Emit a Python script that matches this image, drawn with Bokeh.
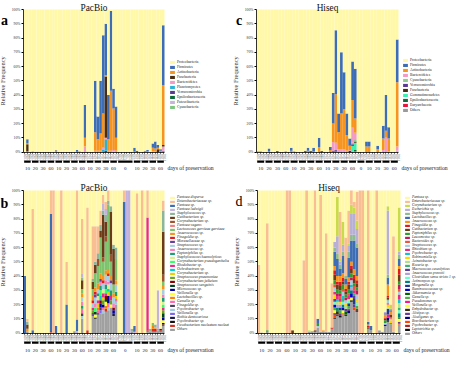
from bokeh.plotting import figure
from bokeh.models import (ColumnDataSource, Range1d, FixedTicker, NumeralTickFormatter,
                          Legend, LegendItem, Label)
from bokeh.layouts import column, row
from bokeh.embed import file_html
from bokeh.resources import INLINE
from bokeh.core.properties import value

SERIF = "Liberation Serif"

# ---------------- groups / sample labels ----------------
day_labels = ["10", "20", "30", "60", "10", "20", "30", "60", "10", "20", "30", "60",
              "0", "10", "20", "30", "60"]
tissue_codes = ["A", "A", "A", "A", "B", "B", "B", "B", "C", "C", "C", "C",
                "N", "D", "D", "D", "D"]
pacbio_group_sizes = [3, 3, 3, 3, 3, 3, 3, 3, 3, 3, 3, 3, 6, 3, 3, 3, 3]
hiseq_group_sizes = [3, 3, 3, 3, 3, 3, 3, 3, 3, 3, 3, 3, 3, 3, 3, 3, 3]

# ---------------- panel a: PacBio, phylum (values in %) ----------------
a_proteo = [100, 91, 100, 99.5, 100, 99.7, 100, 100, 100, 100,
            100, 100, 98.5, 100, 100, 100, 100, 100, 100, 100,
            98.5, 99.5, 100, 67, 99.7, 100, 100, 50, 75, 50,
            18, 10, 60, 1, 55.5, 68, 100, 100, 100, 100,
            100, 100, 97, 99, 100, 100, 99, 98.5, 100, 94,
            92.5, 95, 98, 11]
a_firm = {1: 3, 3: 0.5, 5: 0.3, 12: 0.3, 20: 1.2, 21: 0.5, 23: 23, 24: 0.3, 27: 36, 28: 16,
          29: 37, 30: 55, 31: 36, 32: 31, 33: 56, 34: 14, 35: 22, 42: 2.5, 43: 1, 46: 0.5,
          47: 1, 49: 3, 50: 5, 51: 2, 52: 1, 53: 42}
a_actino = {1: 0.5, 12: 1.2, 20: 0.3, 23: 6, 27: 13, 28: 8, 29: 12, 30: 24, 31: 1, 32: 8,
            33: 42, 34: 29, 35: 9, 42: 0.5, 46: 0.5, 47: 0.5, 49: 2.5, 50: 2, 51: 1, 52: 1, 53: 42}
a_fuso = {1: 5, 31: 43, 51: 2, 53: 1}
a_bact = {1: 0.5, 23: 3.5, 27: 1, 28: 1, 29: 1, 30: 1.5, 31: 1, 32: 1, 33: 1, 34: 1, 35: 1,
          49: 0.5, 50: 0.5, 53: 3}
a_planc = {23: 0.5, 30: 1, 31: 8, 53: 0.5}
a_verr = {31: 1, 53: 0.5}
a_eps = {30: 0.5}
a_pates = {34: 0.5}
a_cyano = {}

# ---------------- panel c: Hiseq, phylum ----------------
c_proteo = [99.5, 99.5, 100, 100, 97.5, 100, 100, 99.2, 100, 100,
            99.5, 100, 97, 99.6, 100, 100, 100, 99, 97, 99,
            97, 100, 90, 99.2, 100, 100, 96.5, 58.5, 14.5, 73,
            30, 44, 73, 90.5, 36.5, 41.5, 100, 100, 100, 92.5,
            92.5, 100, 100, 95.5, 100, 81.5, 60, 82.5, 100, 100, 21]
c_firm = {4: 2, 7: 0.8, 12: 2, 17: 1, 18: 2, 19: 1, 20: 2.5, 22: 6.5, 23: 0.8, 26: 2,
          27: 21.5, 28: 45, 29: 13, 30: 43, 31: 26, 32: 15, 33: 5, 34: 27, 35: 35,
          39: 3.5, 40: 3.5, 43: 2.5, 45: 9, 46: 25, 47: 8, 50: 30}
c_actino = {4: 0.5, 12: 1, 18: 1, 20: 0.5, 22: 3.5, 26: 1.5, 27: 13, 28: 34, 29: 12, 30: 25,
            31: 28, 32: 11, 33: 3, 34: 19.5, 35: 10, 39: 4, 40: 4, 43: 2, 45: 8, 46: 5,
            47: 9, 50: 45}
c_bact = {27: 6, 28: 5, 29: 2, 30: 2, 31: 2, 32: 1, 33: 0.5, 34: 10.5, 35: 5, 45: 1.5,
          46: 10, 47: 0.5, 50: 3}
c_cyano = {34: 1, 35: 1, 50: 0.5}
c_verr = {28: 0.5, 34: 0.5}
c_fuso = {0: 0.5, 1: 0.5, 10: 0.5, 13: 0.4, 27: 0.5, 28: 0.5, 33: 1, 34: 0.5, 35: 1}
c_gemm = {34: 4, 35: 5}
c_eps = {35: 1}
c_eury = {}
c_others = {27: 0.5, 28: 0.5, 34: 0.5, 35: 0.5, 50: 0.5}

# ---------------- panel b: PacBio, species ----------------
b_dispersa = [60, 90, 100, 13, 100, 100, 100, 100, 100, 100,
              0, 0, 95, 100, 0, 100, 50, 100, 100, 98.5,
              0, 100, 20, 100, 12, 100, 25, 25, 25, 14,
              3, 8, 0, 11, 38, 40, 100, 100, 0, 0,
              0, 97, 95, 2, 100, 0, 100, 0, 97, 93,
              94, 70, 97, 7]
b_ent = {1: 2, 3: 85, 10: 16.5, 11: 100, 14: 100, 16: 30, 20: 90.5, 22: 38, 24: 86, 26: 37,
         27: 25, 28: 19, 29: 10, 30: 6, 31: 5, 32: 7, 38: 8, 43: 98, 45: 100, 47: 19, 53: 7}
b_psp = {0: 40, 3: 2, 10: 82, 12: 5, 16: 20, 20: 8, 38: 92, 42: 4}
b_plud = {20: 1.5, 22: 3, 30: 5, 31: 4, 39: 100, 40: 100, 42: 1, 51: 27}
b_staph = {1: 2, 19: 0.5, 22: 2, 26: 2, 27: 2, 28: 4, 29: 4, 30: 3, 31: 5, 32: 3, 33: 4,
           34: 3, 35: 8, 41: 2, 48: 2, 50: 2, 51: 1, 53: 15}
b_cuti = {1: 3, 22: 6, 26: 5, 27: 6, 29: 5, 30: 30, 31: 10, 33: 30, 34: 25, 53: 30}
b_cuti2 = {28: 5, 30: 3, 31: 4, 33: 5, 53: 5}
b_pvag = {}
b_lacto = {22: 3, 26: 5, 27: 10, 28: 12, 29: 25, 30: 10, 31: 20, 32: 45, 33: 10, 34: 6,
           35: 15, 49: 2, 53: 3}
b_anae = {1: 2, 22: 3, 26: 3, 27: 3, 28: 4, 29: 4, 30: 3, 31: 3, 32: 3, 33: 3, 34: 3,
          35: 3, 50: 1, 53: 2}
b_fineg = {26: 2, 27: 2, 30: 2, 32: 2, 50: 2}
b_morax = {27: 2, 29: 2, 33: 2}
b_strep = {22: 3, 26: 3, 27: 4, 28: 3, 30: 4, 31: 4, 32: 4, 33: 5, 34: 4, 35: 5, 53: 4}
b_anae2 = {22: 3, 27: 3, 29: 3, 31: 3, 32: 2, 34: 3, 53: 2}
b_pept = {22: 2, 28: 2, 29: 3, 31: 3, 33: 4, 35: 3, 53: 3}
b_shaem = {28: 3, 30: 3, 32: 3, 53: 2}
b_cpseu = {27: 3, 29: 4, 31: 3, 53: 2}
b_rhodo = {26: 2, 28: 2, 30: 3, 31: 2, 33: 3, 47: 79, 53: 2}
b_ochro = {29: 3, 32: 2}
b_coryn = {28: 3, 30: 2, 32: 3, 35: 2}
b_spneu = {26: 2, 30: 3, 33: 3, 53: 2}
b_cjeik = {29: 2, 31: 2, 34: 2, 52: 1}
b_ssang = {27: 2, 31: 2, 53: 3}
b_micro = {26: 1, 29: 3, 30: 2, 32: 5, 34: 2, 53: 2}
b_veil = {27: 2, 31: 3, 33: 2, 53: 2}
b_lons = {28: 2, 31: 2, 49: 2}
b_gem = {22: 3, 28: 2, 30: 2, 32: 3, 35: 2}
b_fineg2 = {22: 2, 29: 2}
b_psych = {22: 2, 30: 2, 32: 2, 35: 2}
b_veil2 = {29: 2}
b_rothia = {28: 1, 34: 2}
b_psych2 = {27: 1, 53: 1}
b_fnuc = {10: 1, 24: 2, 26: 1, 31: 2, 47: 1, 49: 2, 52: 1, 53: 1}
b_others = {1: 1, 10: 0.5, 19: 1, 22: 10, 26: 12, 27: 10, 28: 13, 29: 14, 30: 14, 31: 15,
            32: 16, 33: 18, 34: 12, 35: 20, 41: 1, 47: 1, 48: 1, 49: 1, 50: 1, 51: 2,
            52: 1, 53: 5}

# ---------------- panel d: Hiseq, species ----------------
d_pantoea = [52, 99.5, 100, 23, 100, 100, 100, 100, 100, 100,
             0, 0, 98, 100, 100, 100, 49, 0, 98, 98.5,
             0, 90, 3, 98, 30, 99, 65, 36, 4.5, 15,
             22, 33, 14, 0, 8, 1, 0, 0, 100, 0,
             95, 100, 0, 98, 99, 85, 11, 80, 32, 100, 12]
d_ent = {0: 48, 3: 75, 10: 100, 11: 100, 16: 51, 17: 100, 20: 98, 22: 96, 24: 69, 26: 31,
         29: 33, 31: 27, 32: 23, 33: 10, 34: 4, 35: 20, 36: 100, 37: 100, 39: 92, 42: 100,
         48: 67}
d_cory = {18: 1, 28: 27.5, 29: 2, 30: 16, 32: 2, 33: 6, 34: 4, 35: 6, 46: 3, 47: 3, 50: 31}
d_esch = {27: 4, 28: 12, 29: 2, 30: 5, 32: 4, 33: 15, 34: 15, 35: 10, 45: 1, 46: 45, 50: 2}
d_staph = {19: 0.5, 27: 3, 28: 4, 29: 3, 30: 3, 31: 2, 32: 4, 33: 4, 34: 4, 35: 3, 46: 2,
           47: 1, 50: 3}
d_lactb = {21: 3, 27: 10, 28: 12, 29: 5, 30: 12, 31: 4, 32: 14, 33: 15, 34: 20, 35: 20,
           39: 2, 40: 3, 45: 1, 46: 5, 47: 1, 50: 5}
d_anae = {23: 1, 27: 3, 28: 4, 29: 4, 30: 3, 31: 3, 32: 3, 33: 3, 34: 4, 35: 3, 39: 1,
          45: 2, 46: 8, 47: 2, 50: 2}
d_fineg = {26: 1, 27: 3, 28: 2, 29: 3, 30: 3, 31: 2, 32: 2, 33: 2, 34: 3, 35: 2, 39: 1,
           45: 1, 46: 1, 50: 4}
d_cuti = {12: 2, 20: 1, 27: 4, 28: 3, 29: 3, 30: 2, 31: 2, 32: 3, 33: 3, 34: 3, 35: 3,
          39: 1, 45: 1, 46: 1, 47: 2, 50: 5}
d_pept = {3: 1, 21: 2, 27: 3, 28: 3, 29: 2, 30: 3, 31: 2, 32: 3, 33: 3, 34: 2, 35: 2,
          45: 2, 46: 1, 50: 2}
d_leuc = {28: 2, 29: 2, 31: 2, 33: 2, 35: 3, 50: 3}
d_bact = {27: 2, 29: 2, 30: 2, 32: 2, 34: 3, 47: 1, 50: 2}
d_strep = {21: 1, 27: 3, 30: 3, 31: 2, 33: 3, 35: 3, 45: 1, 46: 2, 47: 1, 50: 2}
d_rhiz = {27: 2, 28: 2, 29: 2, 32: 2, 34: 2, 46: 1, 50: 3}
d_psych = {28: 2, 30: 2, 33: 2, 50: 3}
d_robin = {27: 3, 29: 2, 31: 2, 32: 1, 35: 2, 46: 2, 47: 2}
d_acin = {28: 2, 31: 2, 35: 1, 46: 1, 50: 3}
d_rothia = {30: 2, 34: 2, 50: 2}
d_macro = {27: 2, 31: 2, 34: 2}
d_aprev = {28: 2, 29: 2, 33: 2}
d_clost = {27: 2, 30: 2, 32: 2, 35: 2, 50: 2}
d_actin = {28: 2, 30: 2, 33: 2, 50: 3}
d_morg = {29: 2, 32: 2, 34: 4, 46: 4}
d_rumin = {27: 2, 30: 2, 33: 3, 45: 1}
d_akk = {28: 1, 31: 2, 50: 1}
d_gem = {27: 2, 29: 2, 32: 2, 35: 2, 47: 1}
d_pseud = {32: 1, 46: 2}
d_veil = {27: 2, 30: 2, 33: 2, 50: 2}
d_enhy = {28: 2, 31: 1}
d_alis = {29: 2, 34: 2, 50: 1}
d_alca = {27: 1, 32: 2, 46: 2}
d_brev = {27: 2, 30: 1, 34: 2, 50: 1}
d_pxan = {28: 1, 35: 1}
d_lept = {27: 1, 29: 1, 33: 1, 35: 1, 46: 1}
d_others = {1: 0.5, 3: 1, 18: 1, 19: 1, 20: 1, 21: 4, 22: 1, 23: 1, 24: 1, 25: 1, 26: 3,
            27: 10, 28: 12, 29: 11, 30: 13, 31: 12, 32: 14, 33: 22, 34: 16, 35: 15, 39: 3,
            40: 2, 43: 2, 44: 1, 45: 5, 46: 8, 47: 6, 48: 1, 50: 6}

YEL = "#FFF8A8"
SAL = "#F9BF93"
BLUE = "#3D6DB5"
ORG = "#F7941E"


def dense(d, n):
    return [d.get(i, 0) for i in range(n)]


def sample_names(sizes):
    out = []
    for t, lab, s in zip(tissue_codes, day_labels, sizes):
        for r in range(s):
            out.append(f"{t}{lab}-{r + 1}")
    return out


def panel(entries, sizes, title, letter, g, italic):
    n = sum(sizes)
    names = sample_names(sizes)
    keys = [f"k{i}" for i in range(len(entries))]
    data = {"x": list(range(n))}
    for k, (lab, vals, col) in zip(keys, entries):
        data[k] = [v / 100 for v in vals]
    src = ColumnDataSource(data)

    # the frame fills the whole canvas; data ranges are set so that the
    # bar area sits at the wanted pixel box inside it
    ppx = (g["xr"] - g["xl"]) / n
    x0 = -0.5 - g["xl"] / ppx
    x1 = n - 0.5 + (g["w"] - g["xr"]) / ppx
    pu = g["pu"]
    y1 = 1.0 + g["yt"] / pu
    y0 = -(g["h"] - g["yt"] - pu) / pu

    p = figure(width=g["w"], height=g["h"], x_range=Range1d(x0, x1),
               y_range=Range1d(y0, y1), output_backend="svg", toolbar_location=None,
               min_border=0)
    p.outline_line_color = None
    p.grid.visible = False
    stack_keys = keys[::-1]
    colors = [e[2] for e in entries][::-1]
    rs = p.vbar_stack(stack_keys, x="x", width=1.0, source=src, fill_color=colors,
                      line_color=None)
    rmap = dict(zip(stack_keys, rs))

    ya = p.yaxis[0]
    ya.fixed_location = -0.5
    ya.bounds = (0, 1)
    ya.ticker = FixedTicker(ticks=[0, 0.1, 0.2, 0.3, 0.4, 0.5, 0.6, 0.7, 0.8, 0.9, 1.0])
    ya.formatter = NumeralTickFormatter(format="0%")
    ya.major_label_text_font = SERIF
    ya.major_label_text_font_size = "3.8px"
    ya.major_label_text_color = "#333333"
    ya.major_label_standoff = 1
    ya.major_tick_out = 2
    ya.major_tick_in = 0
    ya.minor_tick_out = 0
    ya.minor_tick_in = 0
    ya.axis_line_width = 0.8
    ya.axis_label = "Relative Frequency"
    ya.axis_label_text_font = SERIF
    ya.axis_label_text_font_style = "normal"
    ya.axis_label_text_font_size = "6.3px"
    ya.axis_label_text_color = "#333333"
    ya.axis_label_standoff = 3

    xa = p.xaxis[0]
    xa.fixed_location = 0
    xa.bounds = (-0.5, n - 0.5)
    xa.ticker = FixedTicker(ticks=list(range(n)))
    xa.major_label_overrides = {i: nm for i, nm in enumerate(names)}
    xa.major_label_orientation = "vertical"
    xa.major_label_text_font_size = "2.6px"
    xa.major_label_text_color = "#777777"
    xa.major_label_standoff = 1
    xa.major_tick_out = 1
    xa.major_tick_in = 0
    xa.minor_tick_out = 0
    xa.minor_tick_in = 0
    xa.axis_line_width = 0.8

    starts, centers = [], []
    acc = 0
    for s in sizes:
        starts.append(acc)
        centers.append(acc + (s - 1) / 2)
        acc += s
    p.quad(left=[s - 0.5 + 0.25 for s in starts],
           right=[s + sz - 0.5 - 0.25 for s, sz in zip(starts, sizes)],
           bottom=-0.074, top=-0.059, fill_color="black", line_color=None)
    p.text(x=centers, y=g["gy"], text=day_labels, text_align="center",
           text_baseline="alphabetic", text_font=value(SERIF), text_font_size="5px",
           text_color="#222222")
    p.add_layout(Label(x=n - 0.5, y=g["gy"], x_offset=3, text="days of preservation",
                       text_font=SERIF, text_font_size="5.7px", text_baseline="alphabetic",
                       text_color="#222222"))
    p.add_layout(Label(x=(n - 1) / 2, y=1.0, y_offset=g["tdy"], text=title,
                       text_font=SERIF, text_font_size="9.3px", text_align="center",
                       text_baseline="alphabetic", text_color="#111111"))
    p.add_layout(Label(x=-0.5, y=1.0, x_offset=g["ldx"], y_offset=g["ldy"], text=letter,
                       text_font=SERIF, text_font_size="14px", text_font_style=g["lstyle"],
                       text_baseline="alphabetic", text_color="#000000"))

    items = [LegendItem(label=value(lab), renderers=[rmap[k]])
             for k, (lab, _, _) in zip(keys, entries)]
    leg = Legend(items=items, location=(g["lx"], g["ly"]), padding=0, margin=0, spacing=0,
                 label_standoff=2, glyph_width=6, glyph_height=g["gh"], label_height=g["lh"],
                 label_width=10, border_line_color=None, background_fill_alpha=0,
                 label_text_font=SERIF, label_text_font_size=g["lf"],
                 label_text_color="#222222", label_text_baseline="middle",
                 label_text_font_style="italic" if italic else "normal")
    p.add_layout(leg)
    return p


na = sum(pacbio_group_sizes)
nc = sum(hiseq_group_sizes)

a_entries = [
    ("Proteobacteria", a_proteo, YEL),
    ("Firmicutes", dense(a_firm, na), BLUE),
    ("Actinobacteria", dense(a_actino, na), ORG),
    ("Fusobacteria", dense(a_fuso, na), "#4A2C10"),
    ("Bacteroidetes", dense(a_bact, na), "#F39AC5"),
    ("Planctomycetes", dense(a_planc, na), "#2BB3D6"),
    ("Verrucomicrobia", dense(a_verr, na), "#5B3A96"),
    ("Epsilonbacteraeota", dense(a_eps, na), "#0E6B3A"),
    ("Patescibacteria", dense(a_pates, na), "#C7B4DA"),
    ("Cyanobacteria", dense(a_cyano, na), "#7DC680"),
]
c_entries = [
    ("Proteobacteria", c_proteo, YEL),
    ("Firmicutes", dense(c_firm, nc), BLUE),
    ("Actinobacteria", dense(c_actino, nc), ORG),
    ("Bacteroidetes", dense(c_bact, nc), "#F39AC5"),
    ("Cyanobacteria", dense(c_cyano, nc), "#8FCB8F"),
    ("Verrucomicrobia", dense(c_verr, nc), "#5B3A96"),
    ("Fusobacteria", dense(c_fuso, nc), "#4A2C10"),
    ("Gemmatimonadetes", dense(c_gemm, nc), "#3BF0B0"),
    ("Epsilonbacteraeota", dense(c_eps, nc), "#0E6B3A"),
    ("Euryarchaeota", dense(c_eury, nc), "#E8143C"),
    ("Others", dense(c_others, nc), "#9A9A9A"),
]
b_entries = [
    ("Pantoea dispersa", b_dispersa, YEL),
    ("Enterobacteriaceae sp.", dense(b_ent, na), SAL),
    ("Pantoea sp.", dense(b_psp, na), BLUE),
    ("Pantoea ludwigii", dense(b_plud, na), "#C3B3DC"),
    ("Staphylococcus sp.", dense(b_staph, na), "#8DB59A"),
    ("Cutibacterium sp.", dense(b_cuti, na), "#6B3A17"),
    ("Corynebacterium sp.", dense(b_cuti2, na), "#A0522D"),
    ("Pantoea vagans", dense(b_pvag, na), "#F08080"),
    ("Lactococcus garvieae garvieae", dense(b_lacto, na), "#7DC36B"),
    ("Anaerococcus sp.", dense(b_anae, na), ORG),
    ("Finegoldia sp.", dense(b_fineg, na), "#E31A1C"),
    ("Moraxellaceae sp.", dense(b_morax, na), "#6A3D9A"),
    ("Streptococcus sp.", dense(b_strep, na), "#A6CEE3"),
    ("Anaerococcus sp.", dense(b_anae2, na), "#F781BF"),
    ("Peptoniphilus sp.", dense(b_pept, na), "#1B9E77"),
    ("Staphylococcus haemolyticus", dense(b_shaem, na), "#D9EF8B"),
    ("Corynebacterium pseudogenitalium", dense(b_cpseu, na), "#33FF66"),
    ("Rhodobacter sp.", dense(b_rhodo, na), "#E7298A"),
    ("Ochrobactrum sp.", dense(b_ochro, na), "#00CED1"),
    ("Corynebacterium sp.", dense(b_coryn, na), "#E6D200"),
    ("Streptococcus pneumoniae", dense(b_spneu, na), "#66A61E"),
    ("Corynebacterium jeikeium", dense(b_cjeik, na), "#8B0000"),
    ("Streptococcus sanguinis", dense(b_ssang, na), "#00441B"),
    ("Micrococcus sp.", dense(b_micro, na), "#0000A0"),
    ("Veillonella sp.", dense(b_veil, na), "#FFFF33"),
    ("Lactobacillus sp.", dense(b_lons, na), "#FF7F00"),
    ("Gemella sp.", dense(b_gem, na), "#FF69B4"),
    ("Finegoldia sp.", dense(b_fineg2, na), "#4B3F5F"),
    ("Psychrobacter sp.", dense(b_psych, na), "#9ECAE1"),
    ("Veillonella sp.", dense(b_veil2, na), "#7B68EE"),
    ("Rothia dentocariosa", dense(b_rothia, na), "#1A1A4E"),
    ("Psychrobacter sp.", dense(b_psych2, na), "#111111"),
    ("Fusobacterium nucleatum nucleatum", dense(b_fnuc, na), "#D7301F"),
    ("Others", dense(b_others, na), "#A0A0A0"),
]
d_entries = [
    ("Pantoea sp.", d_pantoea, YEL),
    ("Enterobacteriaceae sp.", dense(d_ent, nc), SAL),
    ("Corynebacterium sp.", dense(d_cory, nc), "#C9DB4A"),
    ("Escherichia sp.", dense(d_esch, nc), "#B7AFD6"),
    ("Staphylococcus sp.", dense(d_staph, nc), "#8FBC8F"),
    ("Lactobacillus sp.", dense(d_lactb, nc), BLUE),
    ("Anaerococcus sp.", dense(d_anae, nc), ORG),
    ("Finegoldia sp.", dense(d_fineg, nc), "#E31A1C"),
    ("Cutibacterium sp.", dense(d_cuti, nc), "#6B3A17"),
    ("Peptoniphilus sp.", dense(d_pept, nc), "#2CA02C"),
    ("Leuconostoc sp.", dense(d_leuc, nc), "#C2185B"),
    ("Bacteroides sp.", dense(d_bact, nc), "#E9573F"),
    ("Streptococcus sp.", dense(d_strep, nc), "#A6CEE3"),
    ("Rhizobium sp.", dense(d_rhiz, nc), "#E7298A"),
    ("Psychrobacter sp.", dense(d_psych, nc), "#17BECF"),
    ("Robinsoniella sp.", dense(d_robin, nc), "#FFD700"),
    ("Acinetobacter sp.", dense(d_acin, nc), "#B2DF8A"),
    ("Kocuria sp.", dense(d_rothia, nc), "#3CB371"),
    ("Macrococcus caseolyticus", dense(d_macro, nc), "#5E3C99"),
    ("Anaerococcus prevotii", dense(d_aprev, nc), "#B39DDB"),
    ("Clostridium sensu stricto 1 sp.", dense(d_clost, nc), "#66FFCC"),
    ("Actinomyces sp.", dense(d_actin, nc), "#008080"),
    ("Morganella sp.", dense(d_morg, nc), "#1F3A93"),
    ("Ruminococcaceae sp.", dense(d_rumin, nc), "#0000CD"),
    ("Akkermansia sp.", dense(d_akk, nc), "#006400"),
    ("Gemella sp.", dense(d_gem, nc), "#4DAF4A"),
    ("Pseudomonas sp.", dense(d_pseud, nc), "#FF1493"),
    ("Veillonella sp.", dense(d_veil, nc), "#FFFF33"),
    ("Enhydrobacter sp.", dense(d_enhy, nc), "#3B2F0B"),
    ("Alistipes sp.", dense(d_alis, nc), "#6A3D9A"),
    ("Alcaligenes sp.", dense(d_alca, nc), "#000080"),
    ("Brevibacterium sp.", dense(d_brev, nc), "#FF4500"),
    ("Psychrobacter sp.", dense(d_pxan, nc), "#B22222"),
    ("Leptotrichia sp.", dense(d_lept, nc), "#111111"),
    ("Others", dense(d_others, nc), "#A0A0A0"),
]

# pixel layout of each panel (bar box inside the canvas, legend spot)
geo_a = dict(w=229, h=176, xl=23, xr=164, yt=9, pu=142.6, lx=169, ly=67, lh=5, gh=4,
             lf="3.7px", ldx=-22.5, ldy=-10.5, lstyle="bold", tdy=2, gy=-0.114)
geo_c = dict(w=229, h=176, xl=27, xr=169, yt=9, pu=142.6, lx=173, ly=64, lh=5, gh=4,
             lf="3.7px", ldx=-20.5, ldy=-10.5, lstyle="bold", tdy=2, gy=-0.114)
geo_b = dict(w=229, h=177, xl=23, xr=164, yt=14, pu=142.6, lx=169, ly=22, lh=4, gh=3,
             lf="3.8px", ldx=-23, ldy=-12.7, lstyle="bold", tdy=3, gy=-0.119)
geo_d = dict(w=229, h=177, xl=28, xr=171, yt=14, pu=142.6, lx=175, ly=18, lh=4, gh=3,
             lf="3.6px", ldx=-22, ldy=-11.2, lstyle="normal", tdy=3, gy=-0.119)

pa = panel(a_entries, pacbio_group_sizes, "PacBio", "a", geo_a, False)
pc = panel(c_entries, hiseq_group_sizes, "Hiseq", "c", geo_c, False)
pb = panel(b_entries, pacbio_group_sizes, "PacBio", "b", geo_b, True)
pd_ = panel(d_entries, hiseq_group_sizes, "Hiseq", "d", geo_d, True)

layout = column(row(pa, pc), row(pb, pd_))
open("out.html", "w").write(file_html(layout, INLINE, title="chart"))
